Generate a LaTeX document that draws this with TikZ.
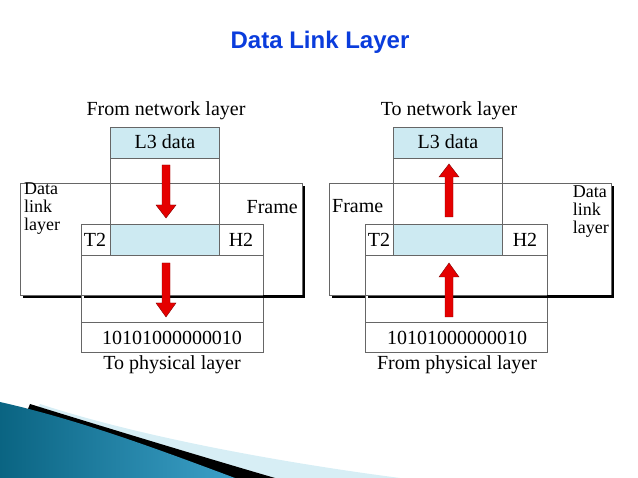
\documentclass[tikz,border=0pt]{standalone}
\usepackage{fontspec}
\setmainfont{Liberation Serif}
\newfontfamily\titlefont{Liberation Sans}
\begin{document}
\begin{tikzpicture}[x=1pt,y=-1pt,
  box/.style={draw=black!60,line width=0.5pt},
  txt/.style={font=\fontsize{20}{20}\selectfont,inner sep=0pt},
  dl/.style={inner sep=0pt,align=left,font=\fontsize{18}{18}\selectfont},
  arr/.style={fill=red!90!black,draw=red!50!black,line width=0.4pt}]
\useasboundingbox (0,0) rectangle (638,478);
\definecolor{lb}{RGB}{205,234,242}
\node[font=\titlefont\bfseries\fontsize{24}{24}\selectfont,text={rgb,255:red,10;green,60;blue,220}] (title) at (320,42) {Data Link Layer};
% ---------- left ----------
\fill (23,186) rectangle (305,298);
\draw[box,fill=white] (20,183) rectangle (302,295);
\draw[box,fill=lb] (110,127) rectangle (219,158);
\draw[box] (110,158) -- (110,224) (219,158) -- (219,224);
\draw[box,fill=white] (81,224) rectangle (263,352);
\draw[box,fill=lb] (110,224) rectangle (219,255);
\draw[box] (81,255) -- (263,255) (81,322) -- (263,322);
\fill (84,295) rectangle (305,298);
\draw[box] (81,295) -- (263,295);
\node[txt] (l3a) at (165,142) {L3 data};
\node[txt] (fnl) at (166,111) {From network layer};
\node[txt] (tpl) at (172,365) {To physical layer};
\node[txt] (bitsa) at (172,338) {10101000000010};
\node[txt] (t2a) at (95,240) {T2};
\node[txt] (h2a) at (241,240) {H2};
\node[txt,anchor=north east] (fra) at (298,200) {Frame};
\node[dl,anchor=north west] (dla) at (24,183) {Data\\link\\layer};
\draw[arr] (162,165) -- (170,165) -- (170,205) -- (176,205) -- (166,218) -- (156,205) -- (162,205) -- cycle;
\draw[arr] (162,263) -- (170,263) -- (170,303) -- (176,303) -- (166,317) -- (156,303) -- (162,303) -- cycle;
% ---------- right ----------
\fill (332,186) rectangle (614,298);
\draw[box,fill=white] (329,183) rectangle (611,295);
\draw[box,fill=lb] (393,127) rectangle (502,158);
\draw[box] (393,158) -- (393,224) (502,158) -- (502,224);
\draw[box,fill=white] (365,224) rectangle (547,352);
\draw[box,fill=lb] (393,224) rectangle (502,255);
\draw[box] (365,255) -- (547,255) (365,322) -- (547,322);
\fill (368,295) rectangle (614,298);
\draw[box] (365,295) -- (547,295);
\node[txt] (l3b) at (448,142) {L3 data};
\node[txt] (tnl) at (449,111) {To network layer};
\node[txt] (fpl) at (457,365) {From physical layer};
\node[txt] (bitsb) at (457,338) {10101000000010};
\node[txt] (t2b) at (379,240) {T2};
\node[txt] (h2b) at (525,240) {H2};
\node[txt,anchor=north west] (frb) at (332,199) {Frame};
\node[dl,anchor=north east] (dlb) at (609,186) {Data\\link\\layer};
\draw[arr] (445,217) -- (453,217) -- (453,177) -- (459,177) -- (449,164) -- (439,177) -- (445,177) -- cycle;
\draw[arr] (445,317) -- (453,317) -- (453,277) -- (459,277) -- (449,263) -- (439,277) -- (445,277) -- cycle;
% ---------- decoration ----------
\fill[lb!80!white] (40,404) .. controls (150,440) and (300,465) .. (400,478) -- (0,478) -- cycle;
\fill[black] (30,404) .. controls (120,432) and (220,462) .. (275,478) -- (0,478) -- cycle;
\shade[left color={rgb,255:red,10;green,100;blue,130},right color={rgb,255:red,60;green,160;blue,200}] (0,402) .. controls (80,420) and (160,450) .. (235,478) -- (0,478) -- cycle;
\end{tikzpicture}
\end{document}
